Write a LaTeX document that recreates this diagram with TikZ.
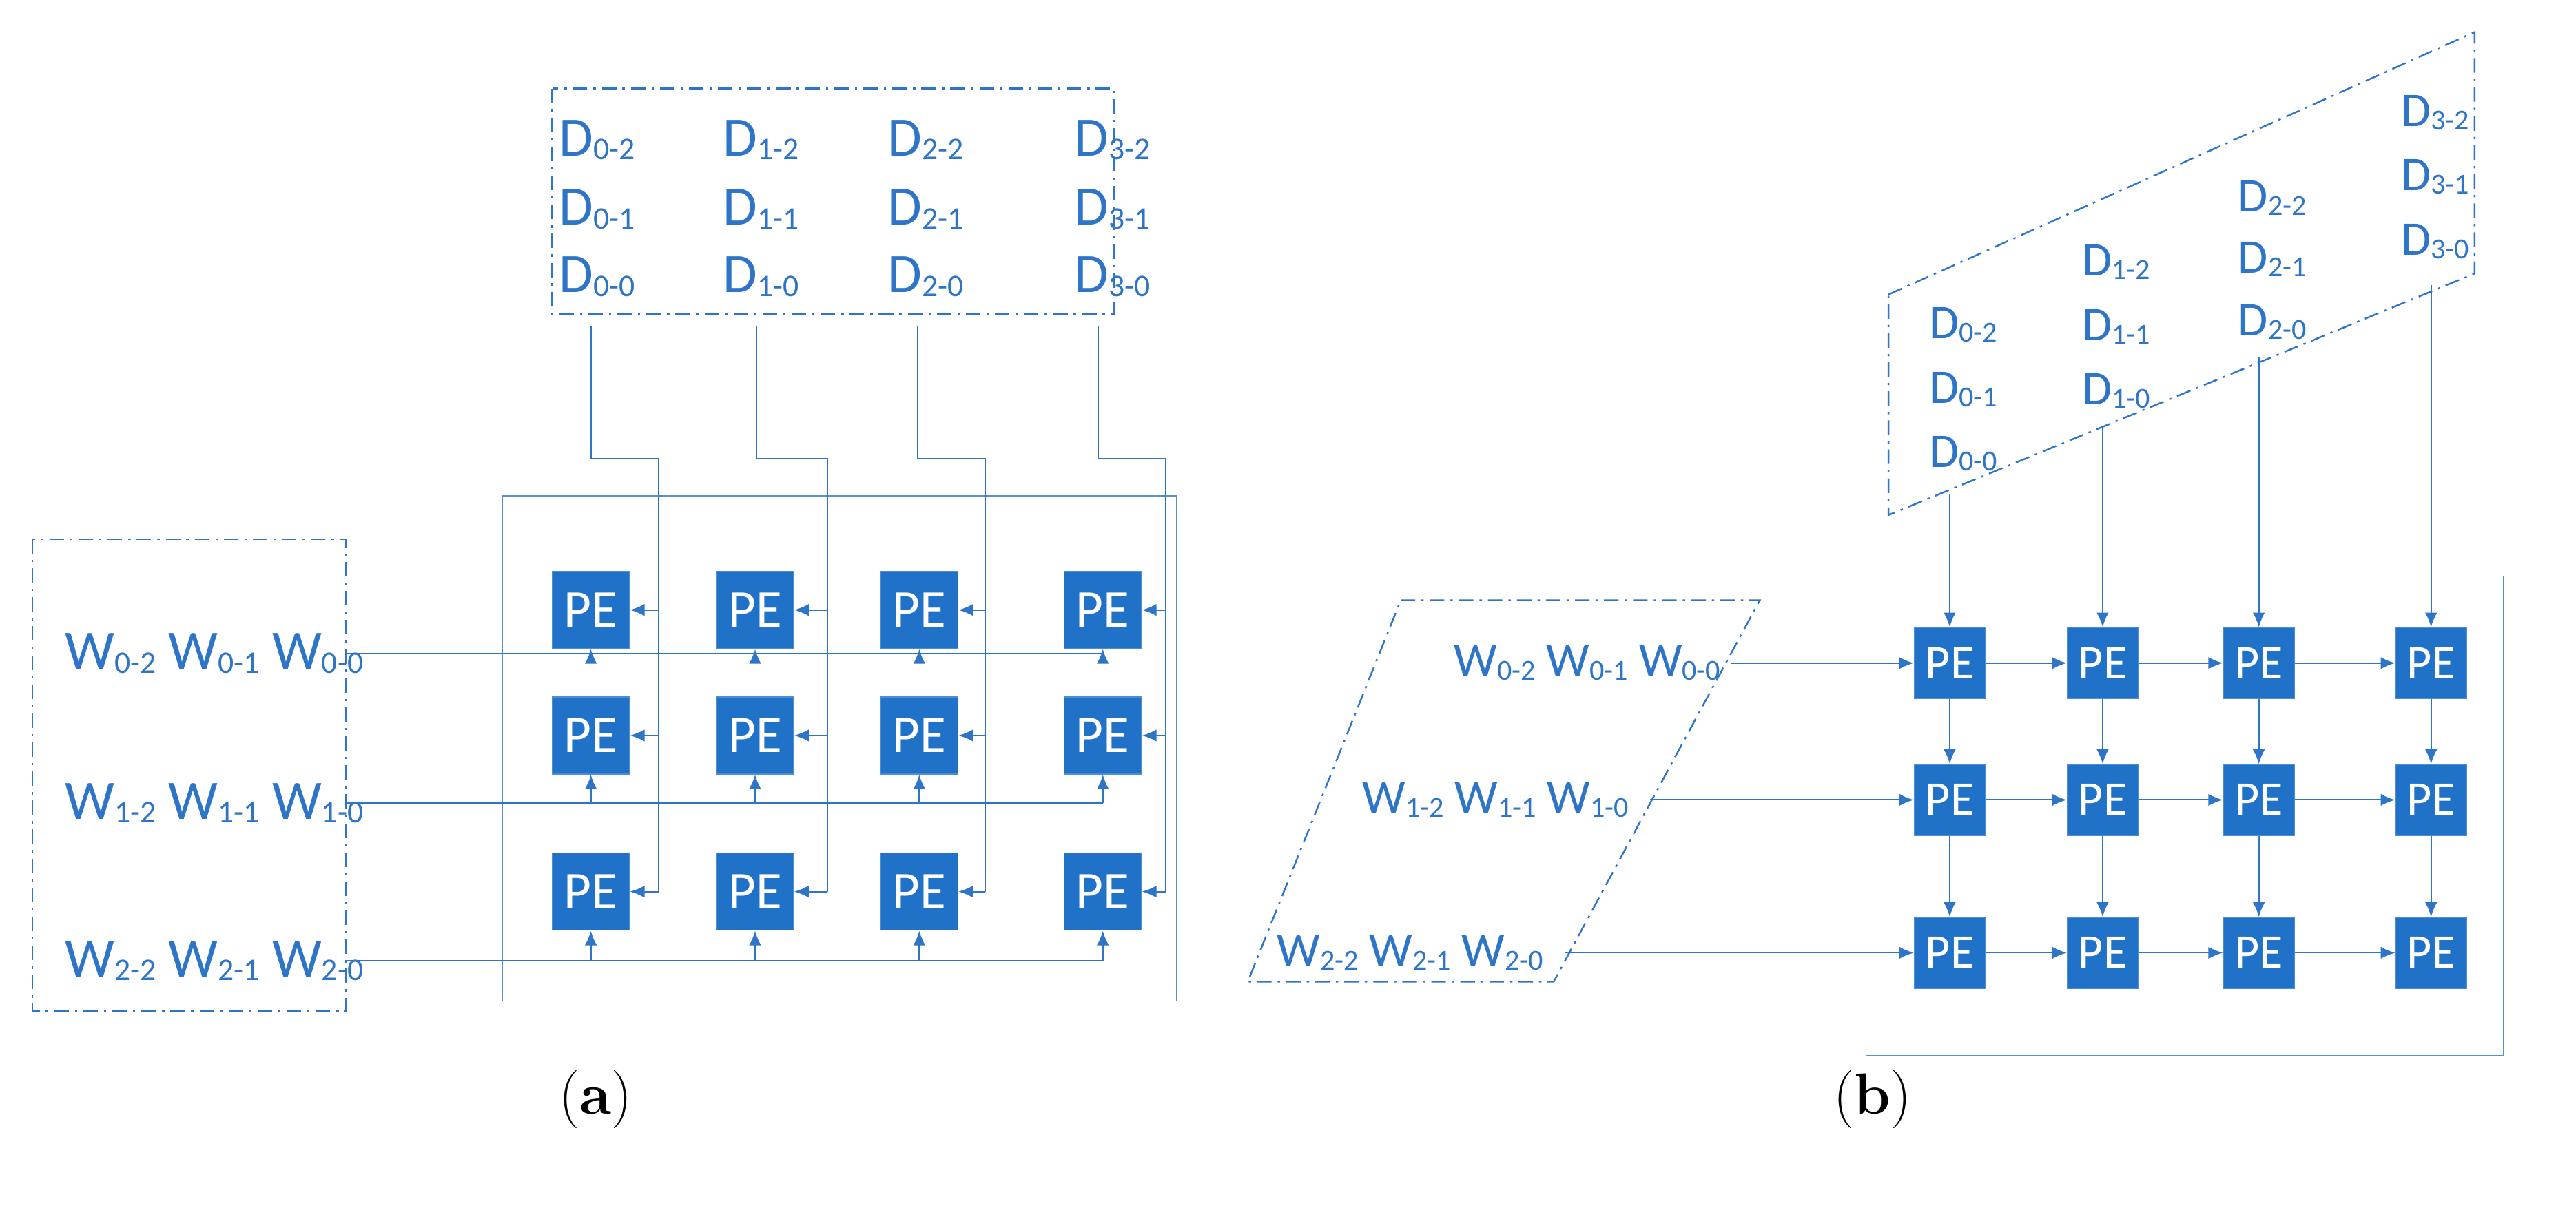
\documentclass[tikz,border=0pt]{standalone}
\usepackage{fontspec}
\newfontfamily\calfont{Carlito}
\usetikzlibrary{arrows.meta,calc}
\definecolor{bl}{RGB}{46,117,200}
\definecolor{pef}{RGB}{31,114,200}
\newcommand{\Dl}[2]{D{\fontsize{#2}{#2}\selectfont\raisebox{-0.12em}{#1}}}
\newcommand{\Wl}[2]{W{\fontsize{#2}{#2}\selectfont\raisebox{-0.12em}{#1}}}
\begin{document}
\begin{tikzpicture}[x=0.023369cm,y=-0.023369cm,
  ln/.style={bl,line width=0.6pt},
  arr/.style={ln,-{Latex[length=6pt,width=5pt]}},
  dd/.style={bl,line width=0.7pt,dash pattern=on 6pt off 2.5pt on 1pt off 2.5pt},
  frame/.style={bl!80,line width=0.5pt},
  pea/.style={fill=pef,draw=pef!80,minimum size=48*0.023369cm,inner sep=0,text=white,font=\calfont\fontsize{22}{22}\selectfont},
  peb/.style={pea,minimum size=44*0.023369cm,font=\calfont\fontsize{20}{20}\selectfont},
  lba/.style={text=bl,anchor=west,inner sep=0,font=\calfont\fontsize{23}{23}\selectfont},
  lbb/.style={text=bl,anchor=west,inner sep=0,font=\calfont\fontsize{20}{20}\selectfont}]
\useasboundingbox (0,0) rectangle (1600,757);
% ---------------- (a)
\draw[dd] (343,55) rectangle (692,195);
\draw[dd] (20,335) rectangle (215,628);
\draw[frame] (312,308) rectangle (731,622);
\foreach \c/\x in {0/347,1/449,2/551,3/667}
  \foreach \r/\y in {2/87,1/130,0/172}
    \node[lba] (da\c\r) at (\x,\y) {\Dl{\c-\r}{13}};
\foreach \r/\y in {0/406,1/499,2/597}
  \node[lba] (wa\r) at (40,\y) {\Wl{\r-2}{13} \Wl{\r-1}{13} \Wl{\r-0}{13}};
\foreach \c/\x in {0/367,1/469,2/571,3/685}
  \foreach \r/\y in {0/379,1/457,2/554}
    \node[pea] (pa\r\c) at (\x,\y) {PE};
% D feeders
\foreach \c/\x/\rx in {0/367/409,1/470/514,2/570/612,3/682/724}{
  \coordinate (ta\c) at (\x,203);
  \coordinate (ba\c) at (\rx,554);
  \draw[ln] (ta\c) |- (\rx,285) -- (ba\c);
  \foreach \r in {0,1,2}
    \draw[arr] (pa\r\c.east -| ba\c) -- (pa\r\c.east);
}
% W feeders
\foreach \r/\y in {0/406,1/499,2/597}{
  \coordinate (wra\r) at (215,\y);
  \draw[ln] (wra\r) -- (pa\r3.south |- wra\r);
  \foreach \c in {0,1,2,3}
    \draw[arr] (pa\r\c.south |- wra\r) -- (pa\r\c.south);
}
\node[font=\fontsize{24}{24}\selectfont] (capa) at (370,683) {(\textbf{a})};
% ---------------- (b)
\draw[dd] (1173,183) -- (1537,20) -- (1537,170) -- (1173,320) -- cycle;
\draw[dd] (870,373) -- (1093,373) -- (965,610) -- (775,610) -- cycle;
\draw[frame] (1159,358) rectangle (1555,656);
\foreach \r/\y in {2/202,1/242,0/282} \node[lbb] (db0\r) at (1198,\y) {\Dl{0-\r}{12}};
\foreach \r/\y in {2/163,1/203,0/243} \node[lbb] (db1\r) at (1293,\y) {\Dl{1-\r}{12}};
\foreach \r/\y in {2/123,1/161,0/200} \node[lbb] (db2\r) at (1390,\y) {\Dl{2-\r}{12}};
\foreach \r/\y in {2/70,1/110,0/150} \node[lbb] (db3\r) at (1491,\y) {\Dl{3-\r}{12}};
\node[lbb] (wb0) at (903,412) {\Wl{0-2}{12} \Wl{0-1}{12} \Wl{0-0}{12}};
\node[lbb] (wb1) at (846,497) {\Wl{1-2}{12} \Wl{1-1}{12} \Wl{1-0}{12}};
\node[lbb] (wb2) at (793,592) {\Wl{2-2}{12} \Wl{2-1}{12} \Wl{2-0}{12}};
\foreach \c/\x in {0/1211,1/1306,2/1403,3/1510}
  \foreach \r/\y in {0/412,1/497,2/592}
    \node[peb] (pb\r\c) at (\x,\y) {PE};
\foreach \c/\y in {0/307,1/265,2/222,3/177}{
  \coordinate (tb\c) at (pb0\c.north |- 0,\y);
  \draw[arr] (tb\c) -- (pb0\c.north);
}
\foreach \r/\x in {0/1075,1/1025,2/972}{
  \coordinate (wrb\r) at (\x,0 |- pb\r0.west);
  \draw[arr] (wrb\r) -- (pb\r0.west);
  \draw[arr] (pb\r0) -- (pb\r1); \draw[arr] (pb\r1) -- (pb\r2); \draw[arr] (pb\r2) -- (pb\r3);
}
\foreach \c in {0,1,2,3}{
  \draw[arr] (pb0\c) -- (pb1\c); \draw[arr] (pb1\c) -- (pb2\c);
}
\node[font=\fontsize{24}{24}\selectfont] (capb) at (1163,683) {(\textbf{b})};
\end{tikzpicture}
\end{document}
